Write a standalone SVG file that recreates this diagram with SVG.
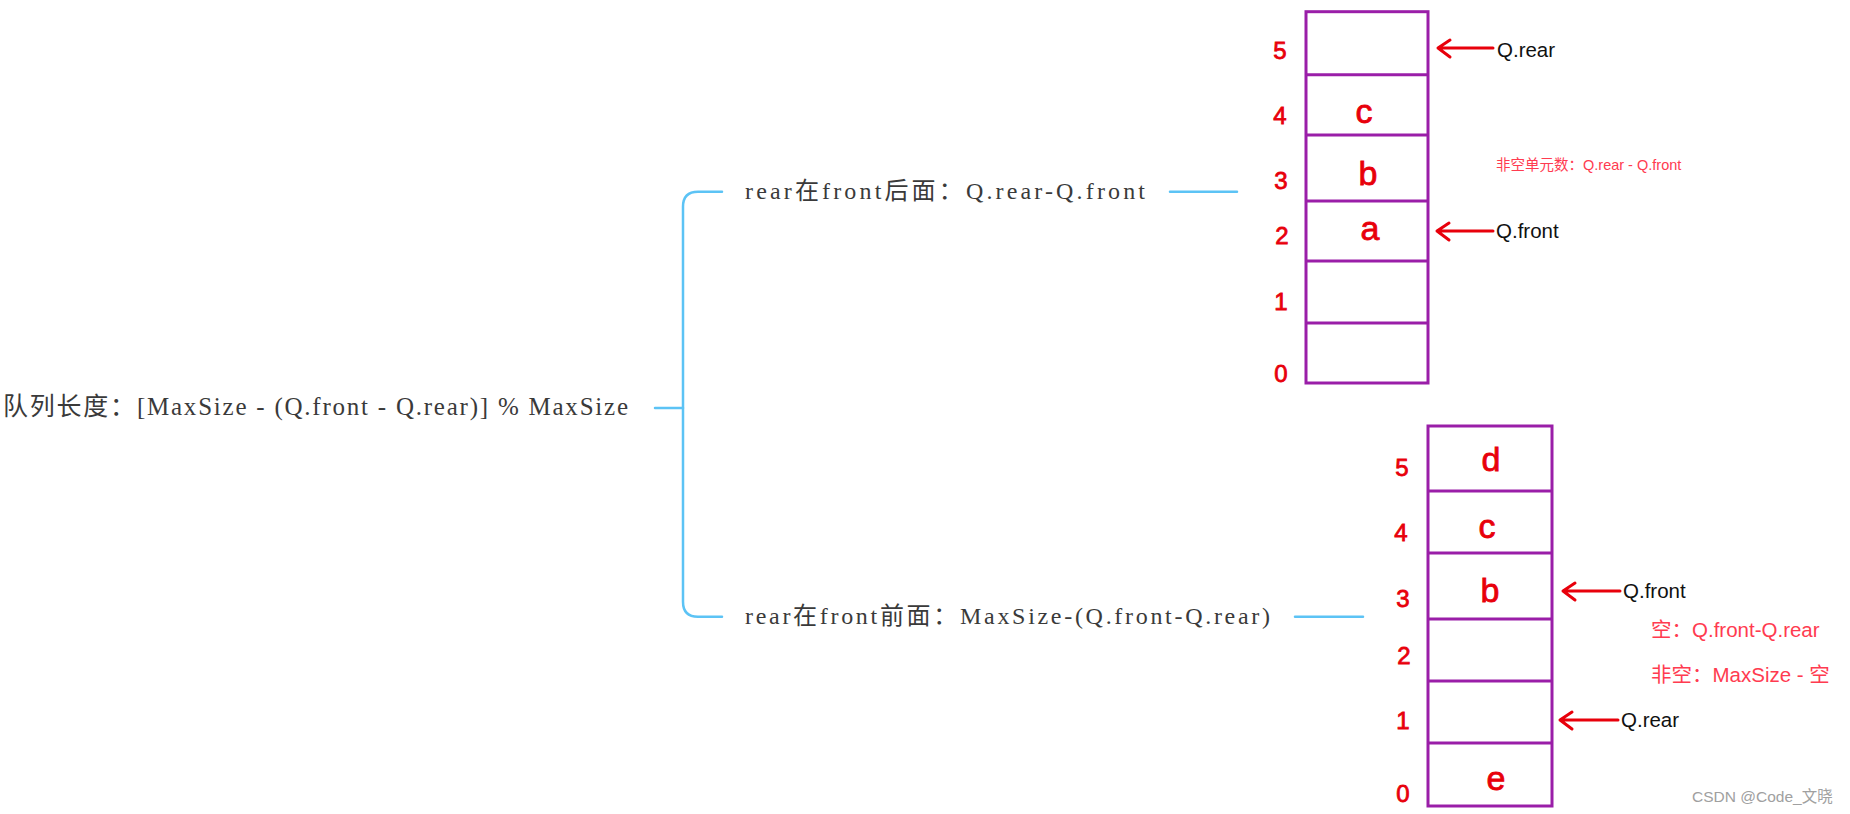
<svg xmlns="http://www.w3.org/2000/svg" width="1850" height="814" viewBox="0 0 1850 814">
<defs>
<style>
.t{font-family:"Liberation Serif","Noto Sans CJK SC",serif;fill:#3a3a3a;}
.conn{fill:none;stroke:#5cc3f5;stroke-width:2.5;stroke-linecap:round;}
.box{fill:#fff;stroke:#9a1ea8;stroke-width:3;}
.div{stroke:#9a1ea8;stroke-width:3;}
.hw{font-family:"Liberation Sans","DejaVu Sans",sans-serif;fill:#e8000b;stroke:#e8000b;stroke-width:0.8;text-anchor:middle;}
.num{font-size:24px;}
.let{font-size:34px;}
.arr{fill:none;stroke:#e8000b;stroke-width:3;stroke-linecap:round;stroke-linejoin:round;}
.lbl{font-family:"Liberation Sans",sans-serif;font-size:20.5px;fill:#111;}
.pk{font-family:"Liberation Sans","Noto Sans CJK SC",sans-serif;fill:#ff3b50;}
.wm{font-family:"Liberation Sans","Noto Sans CJK SC",sans-serif;font-size:15.5px;fill:#a0a0a0;}
</style>
</defs>

<g id="connectors">
<path class="conn" d="M655,408 H683"/>
<path class="conn" d="M722,191.7 H698 Q683,191.7 683,206.7 V601.7 Q683,616.7 698,616.7 H722"/>
<path class="conn" d="M1170,191.7 H1237"/>
<path class="conn" d="M1295,616.7 H1363"/>
</g>

<g id="root">
<text class="t" x="3" y="415" font-size="25" textLength="625" lengthAdjust="spacing">队列长度：[MaxSize - (Q.front - Q.rear)] % MaxSize</text>
</g>

<g id="branch-top">
<text class="t" x="745" y="199" font-size="24" textLength="400" lengthAdjust="spacing">rear在front后面：Q.rear-Q.front</text>
</g>

<g id="branch-bottom">
<text class="t" x="745" y="623.5" font-size="24" textLength="525" lengthAdjust="spacing">rear在front前面：MaxSize-(Q.front-Q.rear)</text>
</g>

<g id="queue-top">
<rect class="box" x="1306" y="11.7" width="122" height="371.3"/>
<line class="div" x1="1306" y1="74.7" x2="1428" y2="74.7"/>
<line class="div" x1="1306" y1="135" x2="1428" y2="135"/>
<line class="div" x1="1306" y1="201" x2="1428" y2="201"/>
<line class="div" x1="1306" y1="261" x2="1428" y2="261"/>
<line class="div" x1="1306" y1="323" x2="1428" y2="323"/>
<text class="hw num" x="1280" y="59">5</text>
<text class="hw num" x="1280" y="124">4</text>
<text class="hw num" x="1281" y="189">3</text>
<text class="hw num" x="1282" y="244">2</text>
<text class="hw num" x="1281" y="310">1</text>
<text class="hw num" x="1281" y="382">0</text>
<text class="hw let" x="1364" y="123">c</text>
<text class="hw let" x="1368" y="185">b</text>
<text class="hw let" x="1370" y="240">a</text>
<path class="arr" d="M1493,48 H1438 M1450,40 L1438,48 L1450,57"/>
<text class="lbl" x="1497" y="57">Q.rear</text>
<path class="arr" d="M1493,231 H1437 M1449,223 L1437,231 L1449,240"/>
<text class="lbl" x="1496" y="238">Q.front</text>
<text class="pk" x="1496" y="170" font-size="14.5">非空单元数：Q.rear - Q.front</text>
</g>

<g id="queue-bottom">
<rect class="box" x="1428" y="426" width="124" height="380"/>
<line class="div" x1="1428" y1="491" x2="1552" y2="491"/>
<line class="div" x1="1428" y1="553" x2="1552" y2="553"/>
<line class="div" x1="1428" y1="619" x2="1552" y2="619"/>
<line class="div" x1="1428" y1="681" x2="1552" y2="681"/>
<line class="div" x1="1428" y1="743" x2="1552" y2="743"/>
<text class="hw num" x="1402" y="476">5</text>
<text class="hw num" x="1401" y="541">4</text>
<text class="hw num" x="1403" y="607">3</text>
<text class="hw num" x="1404" y="664">2</text>
<text class="hw num" x="1403" y="729">1</text>
<text class="hw num" x="1403" y="802">0</text>
<text class="hw let" x="1491" y="471">d</text>
<text class="hw let" x="1487" y="538">c</text>
<text class="hw let" x="1490" y="602">b</text>
<text class="hw let" x="1496" y="790">e</text>
<path class="arr" d="M1620,591 H1563 M1575,583 L1563,591 L1575,600"/>
<text class="lbl" x="1623" y="598">Q.front</text>
<path class="arr" d="M1618,720 H1560 M1572,712 L1560,720 L1572,729"/>
<text class="lbl" x="1621" y="727">Q.rear</text>
<text class="pk" x="1651" y="636.5" font-size="20.5">空：Q.front-Q.rear</text>
<text class="pk" x="1651" y="681.5" font-size="20.5">非空：MaxSize - 空</text>
</g>

<g id="watermark">
<text class="wm" x="1692" y="802">CSDN @Code_文晓</text>
</g>
</svg>
